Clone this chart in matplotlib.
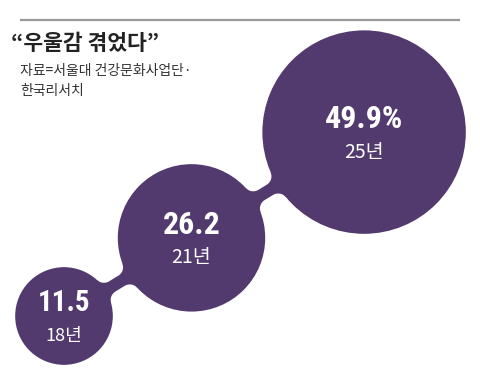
import numpy as np
import matplotlib
matplotlib.use("Agg")
import matplotlib.pyplot as plt
from matplotlib.patches import Circle, Polygon
from matplotlib import font_manager

plt.rcParams['font.family'] = ['Noto Sans CJK KR', 'DejaVu Sans']

# 데이터
anos = ["18년", "21년", "25년"]
valores = [11.5, 26.2, 49.9]
etiquetas = ["11.5", "26.2", "49.9%"]

color = "#523a6f"

# fuente estrecha (negrita, no cursiva) si existe
estrecha = None
for f in font_manager.fontManager.ttflist:
    if ('Narrow' in f.name or 'Condensed' in f.name or f.stretch in ('condensed', 'semi-condensed')) \
            and f.weight in ('bold', 700) and f.style == 'normal':
        estrecha = f.fname
        if 'Liberation' in f.name or 'Roboto' in f.name:
            break

fig = plt.figure(figsize=(4.8, 3.85), dpi=100)
ax = fig.add_axes([0, 0, 1, 1])
ax.set_xlim(0, 480)
ax.set_ylim(385, 0)
ax.set_aspect('equal')
ax.axis('off')

# radio proporcional al area
k = 14.4
radios = [k * np.sqrt(v) for v in valores]
angulo = np.deg2rad(31.5)
direc = np.array([np.cos(angulo), -np.sin(angulo)])
hueco = 27
centros = [np.array([64.0, 316.0])]
for i in range(1, len(radios)):
    d = radios[i - 1] + radios[i] + hueco
    centros.append(centros[-1] + direc * d)


def arco(p, rf, q1, q2):
    a1 = np.arctan2(q1[1] - p[1], q1[0] - p[0])
    a2 = np.arctan2(q2[1] - p[1], q2[0] - p[0])
    da = (a2 - a1 + np.pi) % (2 * np.pi) - np.pi
    th = np.linspace(a1, a1 + da, 20)
    return np.column_stack([p[0] + rf * np.cos(th), p[1] + rf * np.sin(th)])


def puente(c1, r1, c2, r2, w, rf):
    # banda de ancho w con esquinas redondeadas
    d = np.linalg.norm(c2 - c1)
    u = (c2 - c1) / d
    n = np.array([-u[1], u[0]])
    off = w / 2 + rf
    x1 = np.sqrt((r1 + rf)**2 - off**2)
    x2 = np.sqrt((r2 + rf)**2 - off**2)
    lados = []
    for s in (1, -1):
        p1 = c1 + u * x1 + n * s * off
        t1 = c1 + (p1 - c1) * r1 / (r1 + rf)
        e1 = c1 + u * x1 + n * s * w / 2
        p2 = c2 - u * x2 + n * s * off
        e2 = c2 - u * x2 + n * s * w / 2
        t2 = c2 + (p2 - c2) * r2 / (r2 + rf)
        lados.append(np.vstack([arco(p1, rf, t1, e1), arco(p2, rf, e2, t2)]))
    return np.vstack([[c1], lados[0], [c2], lados[1][::-1]])


for i in range(len(radios) - 1):
    pts = puente(centros[i], radios[i], centros[i + 1], radios[i + 1], 12, 10)
    ax.add_patch(Polygon(pts, closed=True, facecolor=color, edgecolor='none'))

for i in range(len(radios)):
    c = centros[i]
    ax.add_patch(Circle(c, radios[i], facecolor=color, edgecolor='none'))
    tam = 21 if i == 0 else 23
    if estrecha:
        fp = font_manager.FontProperties(fname=estrecha, size=tam)
    else:
        fp = font_manager.FontProperties(family=['Roboto', 'DejaVu Sans'], weight='bold', size=tam)
    ax.text(c[0], c[1] - 13, etiquetas[i], color='white', fontproperties=fp,
            ha='center', va='center')
    ax.text(c[0], c[1] + 20, anos[i], color='white', fontsize=13 if i == 0 else 14,
            ha='center', va='center')

# titulo y fuente
ax.plot([20, 460], [20, 20], color='#999999', lw=1.6, solid_capstyle='butt')
ax.text(11, 43, "“우울감 겪었다”", fontsize=15.5, fontweight='bold', color='#222222',
        ha='left', va='center')
ax.text(20, 71, "자료=서울대 건강문화사업단·", fontsize=10, color='#333333',
        ha='left', va='center')
ax.text(20, 91, "한국리서치", fontsize=10, color='#333333', ha='left', va='center')

fig.savefig("out.png", dpi=100)
